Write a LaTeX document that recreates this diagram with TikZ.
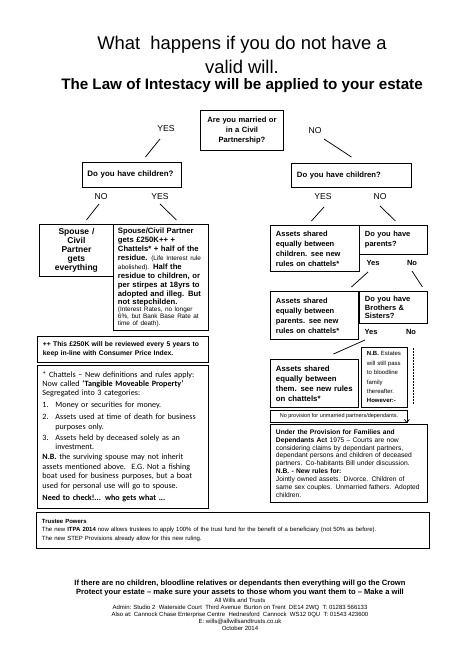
\documentclass[tikz,border=0pt]{standalone}
\usepackage{fontspec}
\setmainfont{Liberation Sans}
\newfontfamily\calibri{Carlito}
\newcommand{\asidefont}{\fontsize{6.4}{6.8}\selectfont\mdseries}
\hyphenpenalty=10000
\usetikzlibrary{arrows.meta,positioning}
\tikzset{Intestacy/.style = {
    x=1pt, y=-1pt,
    every node/.style = {inner sep=0pt},
    pane/.style = {draw, line width=0.9pt, anchor=north west, align=left,
      inner xsep=5.5pt, inner ysep=1pt},
    ask/.style = {pane, font=\fontsize{7.6}{10}\selectfont\bfseries},
    answer/.style = {font=\fontsize{8.6}{10}\selectfont},
    reply/.style = {font=\fontsize{7.5}{9}\selectfont\bfseries},
    link/.style = {line width=0.75pt},
    pointer/.style = {link, -{Straight Barb[length=3pt,width=5pt]}},
  }% end of Intestacy style
}

\begin{document}
\begin{tikzpicture}[Intestacy]
  \fill[white] (0,0) rectangle (474,670);
  \useasboundingbox (0,0) rectangle (474,670);

  \node[font=\fontsize{18.4}{24}\selectfont, align=center] (title) at (242,55) {What\ \ happens if you do not have a\\valid will.};
  \node[font=\fontsize{15.2}{18}\selectfont\bfseries] (subtitle) at (242,86) {The Law of Intestacy will be applied to your estate};

  \node[ask, align=center, text width=72pt, minimum height=40pt] (married) at (200,110) {Are you married or\\in a Civil\\Partnership?};
  \node[answer] (yesA) at (166,129) {YES};
  \node[answer] (noA) at (315,131) {NO};

  \node[ask, font=\fontsize{7.9}{10}\selectfont\bfseries, inner xsep=5pt, text width=89pt, minimum height=25pt] (kidsL) at (82,162) {Do you have children?};
  \node[ask, font=\fontsize{7.7}{10}\selectfont\bfseries, text width=109pt, minimum height=24pt] (kidsR) at (291,163) {Do you have children?};
  \draw[link] ([shift={(-6,10)}]yesA.center) -- ([shift={(13.5,-5)}]kidsL.north);
  \draw[link] ([shift={(9,8)}]noA.center) -- ([shift={(0,-6)}]kidsR.north);

  \node[answer] (noB) at (101,197) {NO};
  \node[answer] (yesB) at (160,197) {YES};
  \node[answer] (yesC) at (323,197) {YES};
  \node[answer] (noC) at (380,197) {NO};

  % married, left branch
  \node[pane, align=center, font=\fontsize{8.5}{9.1}\selectfont\bfseries, text width=63pt, minimum height=52pt] (spouseAll) at (39,224) {Spouse /\\Civil\\Partner\\gets\\everything};
  \node[pane, font=\fontsize{7.7}{8.9}\selectfont\bfseries, inner xsep=4.5pt, text width=86pt, minimum height=106pt] (spouseShare) at (113,224) {Spouse/Civil Partner\\gets £250K++ +\\Chattels* + half of the\\residue. {\asidefont (Life Interest rule}\\{\asidefont abolished).} Half the\\residue to children, or\\per stirpes at 18yrs to\\adopted and illeg. But\\not stepchilden.\par
    {\asidefont (Interest Rates, no longer\\6\%, but Bank Base Rate at\\time of death).\par}};
  \draw[link] ([shift={(-2,7)}]noB.center) -- ([shift={(10,-4)}]spouseAll.north);
  \draw[link] ([shift={(0,7)}]yesB.center) -- ([shift={(15.5,-4)}]spouseShare.north);

  \node[pane, font=\fontsize{6.8}{9}\selectfont\bfseries, text width=160pt, minimum height=26pt] (review) at (37,336) {++ This £250K will be reviewed every 5 years to\\keep in-line with Consumer Price Index.};
  \node[pane, font=\calibri\fontsize{8.1}{9.3}\selectfont, inner xsep=5pt, text width=161pt, minimum height=143pt] (chattels) at (37,365) {* Chattels – New definitions and rules apply:\\Now called \textbf{‘Tangible Moveable Property’}\\Segregated into 3 categories:\\[2pt]
    \makebox[13pt][l]{1.}Money or securities for money.\\[2.5pt]
    \makebox[13pt][l]{2.}Assets used at time of death for business\\[1.5pt]
    \hspace*{13pt}purposes only.\\[1pt]
    \makebox[13pt][l]{3.}Assets held by deceased solely as an\\[0.5pt]
    \hspace*{13pt}investment.\\[0.5pt]
    \textbf{N.B.} the surviving spouse may not inherit\\[0.5pt]
    assets mentioned above.\ \ E.G. Not a fishing\\
    boat used for business purposes, but a boat\\[0.5pt]
    used for personal use will go to spouse.\\[3pt]
    \textbf{Need to check!... who gets what ...}};

  % not married, right branch
  \node[pane, font=\fontsize{7.5}{10}\selectfont\bfseries, text width=78pt, minimum height=46pt] (assetsKids) at (270,225) {Assets shared\\equally between\\children. see new\\rules on chattels*};
  \node[pane, font=\fontsize{7.5}{10}\selectfont\bfseries, text width=57pt, minimum height=29pt] (parents) at (359,225) {Do you have\\parents?};
  \draw[link] ([shift={(1,10)}]yesC.center) -- ([shift={(-3.5,-4)}]assetsKids.north);
  \draw[link] ([shift={(0,9)}]noC.center) -- ([shift={(2,-4)}]parents.north);

  \node[reply] (yesD) at (373,263) {Yes};
  \node[reply] (noD) at (412,263) {No};
  \node[pane, font=\fontsize{7.5}{10}\selectfont\bfseries, text width=77pt, minimum height=48pt] (assetsPar) at (270,291) {Assets shared\\equally between\\parents. see new\\rules on chattels*};
  \node[pane, font=\fontsize{7.5}{8.6}\selectfont\bfseries, text width=57pt, minimum height=32pt] (siblings) at (359,291) {Do you have\\Brothers \&\\Sisters?};
  \draw[link] ([shift={(-5,9)}]yesD.center) -- ([shift={(37,-4)}]assetsPar.north);
  \draw[link] ([shift={(0,8)}]noD.center) -- ([shift={(29,-4)}]siblings.north);

  \node[reply] (yesE) at (371,332) {Yes};
  \node[reply] (noE) at (411,332) {No};
  \node[pane, font=\fontsize{7.8}{10}\selectfont\bfseries, text width=77pt, minimum height=48pt] (assetsThem) at (270,359) {Assets shared\\equally between\\them. see new rules\\on chattels*};
  \node[pane, font=\fontsize{6}{9.4}\selectfont, text width=35pt, minimum height=60pt] (estates) at (361,347) {\textbf{N.B.} Estates\\will still pass\\to bloodline\\family\\thereafter.\\\textbf{However:-}};
  \draw[link] ([shift={(-6,8)}]yesE.center) -- ([shift={(19,-5)}]assetsThem.north);
  \draw[link, dash pattern=on 1.5pt off 1.5pt] ([shift={(2,16)}]noE.center) -- ([shift={(2,72)}]noE.center);

  \node[pane, font=\fontsize{5.5}{7}\selectfont, minimum width=137pt, minimum height=12pt] (unmarried) at (270,410) {No provision for unmarried partners/dependants.};
  \node[pane, font=\fontsize{6.7}{7.9}\selectfont, text width=146pt, minimum height=78pt] (provision) at (270,424) {\textbf{Under the Provision for Families and}\\\textbf{Dependants Act} 1975 – Courts are now\\considering claims by dependant partners,\\dependant persons and children of deceased\\partners. Co-habitants Bill under discussion.\\\textbf{N.B. - New rules for:}\\Jointly owned assets. Divorce. Children of\\same sex couples. Unmarried fathers. Adopted\\children.};
  \draw[pointer] ([shift={(-21,-13)}]provision.north east) -- ([shift={(-21,-1)}]provision.north east);

  \node[pane, font=\fontsize{6}{8.5}\selectfont, text width=382pt, minimum height=36pt] (trustee) at (36,512) {\textbf{Trustee Powers}\\The new \textbf{ITPA 2014} now allows trustees to apply 100\% of the trust fund for the benefit of a beneficiary (not 50\% as before).\\The new STEP Provisions already allow for this new ruling.};

  \node[font=\fontsize{7.6}{9}\selectfont\bfseries, align=center] (crown) at (240,588.5) {If there are no children, bloodline relatives or dependants then everything will go the Crown\\Protect your estate – make sure your assets to those whom you want them to – Make a will};
  \node[font=\fontsize{6}{7}\selectfont, align=center] (address) at (240,614) {All Wills and Trusts\\Admin: Studio 2\ \ Waterside Court\ \ Third Avenue\ \ Burton on Trent\ \ DE14 2WQ\ \ T: 01283 566133\\Also at: Cannock Chase Enterprise Centre\ \ Hednesford\ \ Cannock\ \ WS12 0QU\ \ T: 01543 423600\\E: wills@allwillsandtrusts.co.uk\\October 2014};
\end{tikzpicture}
\end{document}
